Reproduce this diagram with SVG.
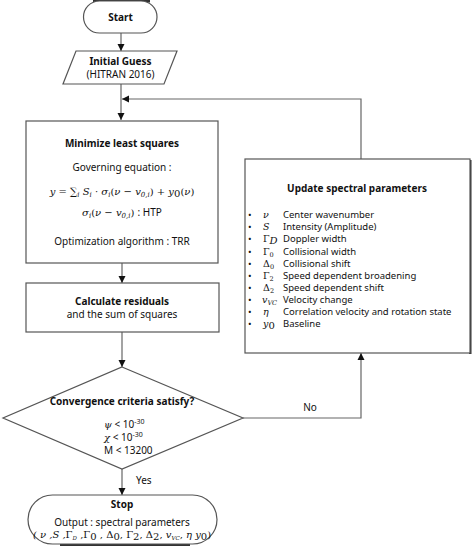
<svg xmlns="http://www.w3.org/2000/svg" width="474" height="546" viewBox="0 0 474 546">
<defs>
<marker id="arr" markerWidth="8" markerHeight="8" refX="7" refY="4" orient="auto" markerUnits="userSpaceOnUse">
<path d="M0,0.5 L7,4 L0,7.5 Z" fill="#111"/>
</marker>
<style>
.box{fill:#fff;stroke:#555;stroke-width:1.2}
.ln{fill:none;stroke:#666;stroke-width:1.2}
.t{font-family:"Noto Sans","Open Sans",sans-serif;font-size:10px;fill:#111}
.b{font-weight:bold}
.m{font-family:"DejaVu Serif","Liberation Serif",serif;font-style:italic;font-size:10px;fill:#111}
.mu{font-family:"DejaVu Serif","Liberation Serif",serif;font-style:normal;font-size:10px;fill:#111}
.c{text-anchor:middle}
.sh{fill:#333}
.li{font-size:9.5px}
</style>
</defs>
<rect width="474" height="546" fill="#fff"/>

<g id="connectors">
<path class="ln" d="M121,33 L121,51" marker-end="url(#arr)"/>
<path class="ln" d="M121,84 L121,120" marker-end="url(#arr)"/>
<path class="ln" d="M361,159 L361,99 L122,99" marker-end="url(#arr)"/>
<path class="ln" d="M122,263 L122,283" marker-end="url(#arr)"/>
<path class="ln" d="M122,332 L122,367" marker-end="url(#arr)"/>
<path class="ln" d="M243,418 L361,418 L361,353" marker-end="url(#arr)"/>
<path class="ln" d="M122,469 L122,495" marker-end="url(#arr)"/>
<text class="t" x="310" y="411" text-anchor="middle">No</text>
<text class="t" x="136" y="484">Yes</text>
</g>

<g id="start">
<rect class="sh" x="93" y="0" width="57" height="2.5"/>
<rect class="box" x="83.5" y="1" width="73.5" height="32" rx="16"/>
<text class="t b c" x="120.5" y="21">Start</text>
</g>

<g id="initial-guess">
<path class="box" d="M76,51 L177,51 L164,84 L63,84 Z"/>
<text class="t b c" x="120.5" y="65">Initial Guess</text>
<text class="t c" x="120.5" y="78">(HITRAN 2016)</text>
</g>

<g id="minimize">
<rect class="box" x="26" y="121" width="192" height="142"/>
<text class="t b c" x="122" y="147">Minimize least squares</text>
<text class="t c" x="122" y="171">Governing equation :</text>
<text class="m c" x="122" y="195">y <tspan class="mu">= ∑</tspan><tspan font-size="7" dy="2">i</tspan><tspan dy="-2"> S</tspan><tspan font-size="7" dy="2">i</tspan><tspan dy="-2" class="mu"> · </tspan>σ<tspan font-size="7" dy="2">i</tspan><tspan dy="-2" class="mu">(</tspan>ν <tspan class="mu">−</tspan> v<tspan font-size="7" dy="2">0,i</tspan><tspan dy="-2" class="mu">) + </tspan>y<tspan class="mu" font-size="7" dy="2">0</tspan><tspan dy="-2" class="mu">(</tspan>ν<tspan class="mu">)</tspan></text>
<text class="m c" x="122" y="216">σ<tspan font-size="7" dy="2">i</tspan><tspan dy="-2" class="mu">(</tspan>ν <tspan class="mu">−</tspan> v<tspan font-size="7" dy="2">0,i</tspan><tspan dy="-2" class="mu">) </tspan><tspan class="t" font-style="normal">: HTP</tspan></text>
<text class="t c" x="122" y="245">Optimization algorithm : TRR</text>
</g>

<g id="calculate">
<rect class="box" x="26" y="283" width="193" height="49"/>
<text class="t b c" x="122" y="305">Calculate residuals</text>
<text class="t c" x="122" y="318">and the sum of squares</text>
</g>

<g id="convergence">
<path class="box" d="M122,367 L243,418 L122,469 L3,418 Z"/>
<text class="t b c" x="122" y="405">Convergence criteria satisfy?</text>
<text class="t" x="104" y="428"><tspan class="m">ψ</tspan> &lt; 10<tspan font-size="7" dy="-4">-30</tspan></text>
<text class="t" x="104" y="441"><tspan class="m">χ</tspan> &lt; 10<tspan font-size="7" dy="-4">-30</tspan></text>
<text class="t" x="104" y="454">M &lt; 13200</text>
</g>

<g id="update">
<rect class="sh" x="469" y="160" width="2.5" height="194"/>
<rect class="box" x="245" y="159" width="225" height="194"/>
<text class="t b c" x="357" y="192">Update spectral parameters</text>
<g class="t li">
<text x="248" y="218">•</text><text class="m li" x="263" y="218">ν</text><text x="283" y="218">Center wavenumber</text>
<text x="248" y="230">•</text><text class="m li" x="263" y="230">S</text><text x="283" y="230">Intensity (Amplitude)</text>
<text x="248" y="242">•</text><text class="mu li" x="263" y="242">Γ<tspan class="m" font-size="6.5" dy="2">D</tspan></text><text x="283" y="242">Doppler width</text>
<text x="248" y="255">•</text><text class="mu li" x="263" y="255">Γ<tspan font-size="6.5" dy="2">0</tspan></text><text x="283" y="255">Collisional width</text>
<text x="248" y="267">•</text><text class="mu li" x="263" y="267">Δ<tspan font-size="6.5" dy="2">0</tspan></text><text x="283" y="267">Collisional shift</text>
<text x="248" y="279">•</text><text class="mu li" x="263" y="279">Γ<tspan font-size="6.5" dy="2">2</tspan></text><text x="283" y="279">Speed dependent broadening</text>
<text x="248" y="291">•</text><text class="mu li" x="263" y="291">Δ<tspan font-size="6.5" dy="2">2</tspan></text><text x="283" y="291">Speed dependent shift</text>
<text x="248" y="303">•</text><text class="m li" x="262" y="303">v<tspan font-size="6.5" dy="2">VC</tspan></text><text x="283" y="303">Velocity change</text>
<text x="248" y="315">•</text><text class="m li" x="263" y="315">η</text><text x="283" y="315">Correlation velocity and rotation state</text>
<text x="248" y="327">•</text><text class="m li" x="263" y="327">y<tspan class="mu" font-size="6.5" dy="2">0</tspan></text><text x="283" y="327">Baseline</text>
</g>
</g>

<g id="stop">
<rect class="sh" x="60" y="542" width="130" height="4"/>
<rect class="box" x="28" y="495" width="189" height="49" rx="24.5"/>
<text class="t b c" x="122" y="508">Stop</text>
<text class="t c" x="122" y="526">Output : spectral parameters</text>
<text class="m c" x="122" y="538" font-size="8">( ν ,S  ,<tspan class="mu" font-size="8">Γ</tspan><tspan font-size="5.5" dy="1.5">D</tspan><tspan dy="-1.5" class="mu" font-size="8"> ,Γ</tspan><tspan class="mu" font-size="5.5" dy="1.5">0</tspan><tspan dy="-1.5" class="mu" font-size="8"> , Δ</tspan><tspan class="mu" font-size="5.5" dy="1.5">0</tspan><tspan dy="-1.5" class="mu" font-size="8">,  Γ</tspan><tspan class="mu" font-size="5.5" dy="1.5">2</tspan><tspan dy="-1.5" class="mu" font-size="8">, Δ</tspan><tspan class="mu" font-size="5.5" dy="1.5">2</tspan><tspan dy="-1.5" class="mu" font-size="8">, </tspan>v<tspan font-size="5.5" dy="1.5">VC</tspan><tspan dy="-1.5" class="mu" font-size="8">,   </tspan>η  y<tspan class="mu" font-size="5.5" dy="1.5">0</tspan><tspan dy="-1.5" class="mu" font-size="8">)</tspan></text>
</g>
</svg>
